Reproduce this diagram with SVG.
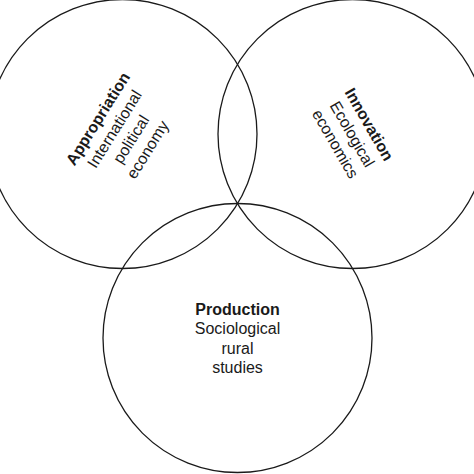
<svg xmlns="http://www.w3.org/2000/svg" width="474" height="474" viewBox="0 0 474 474">
<style>
.c{fill:none;stroke:#1a1a1a;stroke-width:1.3}
text{font-family:"Liberation Sans",Arial,sans-serif;font-size:16px;fill:#1a1a1a;text-anchor:middle}
.b{font-weight:bold}
</style>
<rect width="474" height="474" fill="#ffffff"/>
<g id="appropriation">
<circle class="c" cx="122.5" cy="134" r="134.5"/>
<g transform="translate(122.5,134) rotate(-58)">
<text class="b" x="0" y="-23.5">Appropriation</text>
<text x="0" y="-4">International</text>
<text x="0" y="15.5">political</text>
<text x="0" y="35">economy</text>
</g>
</g>
<g id="innovation">
<circle class="c" cx="352.5" cy="134" r="134.5"/>
<g transform="translate(352.5,134) rotate(60)">
<text class="b" x="0" y="-13.8">Innovation</text>
<text x="0" y="5.7">Ecological</text>
<text x="0" y="25.2">economics</text>
</g>
</g>
<g id="production">
<circle class="c" cx="237.5" cy="338" r="134.5"/>
<text class="b" x="237.5" y="314.5">Production</text>
<text x="237.5" y="334">Sociological</text>
<text x="237.5" y="353.5">rural</text>
<text x="237.5" y="373">studies</text>
</g>
<g id="connectors"></g>
</svg>
